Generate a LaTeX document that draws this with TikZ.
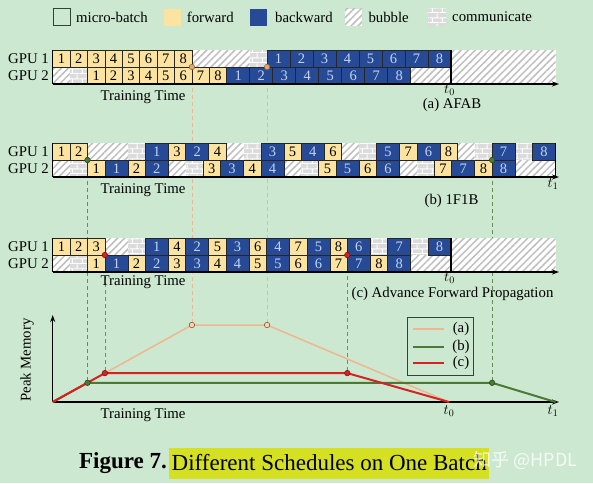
\documentclass[tikz,border=0pt]{standalone}
\usepackage{fontspec}
\setmainfont{Liberation Serif}
\newfontfamily\cjkfont{Noto Sans CJK SC}
\usetikzlibrary{arrows.meta, patterns, patterns.meta}

\definecolor{bgcol}{RGB}{204,232,208}
\definecolor{fwdcol}{RGB}{252,228,160}
\definecolor{bwdcol}{RGB}{38,74,150}
\definecolor{bwdtext}{RGB}{196,212,240}
\definecolor{memA}{RGB}{240,182,142}
\definecolor{memB}{RGB}{74,122,52}
\definecolor{memC}{RGB}{214,34,34}
\definecolor{hilite}{RGB}{214,224,34}
\definecolor{boxedge}{RGB}{44,70,48}

% brick texture for the communicate slots
\pgfdeclarepatternformonly{brickwall}{\pgfpointorigin}{\pgfqpoint{10pt}{10pt}}{\pgfqpoint{10pt}{10pt}}{%
  \pgfsetlinewidth{1pt}%
  \pgfpathmoveto{\pgfqpoint{0pt}{0.5pt}}\pgfpathlineto{\pgfqpoint{10pt}{0.5pt}}%
  \pgfpathmoveto{\pgfqpoint{0pt}{5.5pt}}\pgfpathlineto{\pgfqpoint{10pt}{5.5pt}}%
  \pgfpathmoveto{\pgfqpoint{2.5pt}{0.5pt}}\pgfpathlineto{\pgfqpoint{2.5pt}{5.5pt}}%
  \pgfpathmoveto{\pgfqpoint{7.5pt}{5.5pt}}\pgfpathlineto{\pgfqpoint{7.5pt}{10pt}}%
  \pgfusepath{stroke}}

\begin{document}
\begin{tikzpicture}[
    x=1pt, y=-1pt,
    txt/.style={font=\fontsize{14.8}{17}\selectfont, inner sep=1pt},
    tlab/.style={txt, inner sep=0pt, anchor=north},
    cell/.style={draw=black!85, line width=0.6pt, minimum height=17pt, inner sep=0pt, outer sep=0pt, anchor=west, font=\fontsize{14.5}{16}\selectfont},
    fw/.style={cell, fill=fwdcol, minimum width=17.4pt},
    bw/.style={cell, fill=bwdcol, text=bwdtext, minimum width=23pt},
    bub/.style={fill=white, postaction={pattern={Lines[angle=45, distance=5pt, line width=1.5pt]}, pattern color=gray!50}},
    comm/.style={fill=gray!28, postaction={pattern=brickwall, pattern color=white}},
    rowedge/.style={line width=1.3pt, black},
    timeaxis/.style={line width=1.3pt, black, -{Stealth[length=7pt, width=5pt]}},
    dropline/.style={dashed, dash pattern=on 4pt off 3pt, line width=0.8pt},
    memdot/.style={circle, draw, line width=0.6pt, inner sep=0pt, minimum size=5.5pt},
    memline/.style={line width=2pt},
]

% ── Canvas ──
\fill[bgcol] (0,0) rectangle (593,483);
\useasboundingbox (0,0) rectangle (593,483);

% ── Key (top) ──
\node[draw=boxedge, line width=1.1pt, minimum size=17pt, inner sep=0pt, anchor=west] (keymb) at (53,17) {};
\node[txt, anchor=west] (keymbtxt) at (75,17) {micro-batch};
\node[fill=fwdcol, minimum size=17pt, inner sep=0pt, anchor=west] (keyfw) at (163.5,17) {};
\node[txt, anchor=west] (keyfwtxt) at (185.7,17) {forward};
\node[fill=bwdcol, minimum size=17pt, inner sep=0pt, anchor=west] (keybw) at (249.5,17) {};
\node[txt, anchor=west] (keybwtxt) at (274,17) {backward};
\path[bub] (345,8.5) rectangle (362,25.5);
\node[txt, anchor=west] (keybubtxt) at (367.3,17) {bubble};
\path[comm] (428,8.5) rectangle (446,25.5);
\node[txt, anchor=west] (keycmtxt) at (451,17) {communicate};

% ── Drop points ──
\coordinate (pa1) at (191.9,67);  \coordinate (pa2) at (267.1,67);
\coordinate (pb1) at (87.5,160);  \coordinate (pb2) at (492.1,160);
\coordinate (pc1) at (104.9,255); \coordinate (pc2) at (347.3,255);
\coordinate (o) at (52.7,402);
\coordinate (ma1) at (191.9,325); \coordinate (ma2) at (267.1,325);
\coordinate (mb1) at (87.5,382.8); \coordinate (mb2) at (492.1,382.8);
\coordinate (mc1) at (104.9,373.1); \coordinate (mc2) at (347.3,373.1);
\coordinate (t0end) at (449,402); \coordinate (t1end) at (555.5,402);

\draw[dropline, memA] (pa1) -- (ma1);
\draw[dropline, memA] (pa2) -- (ma2);
\draw[dropline, memB!85] (pb1) -- (mb1);
\draw[dropline, memB!85] (pb2) -- (mb2);
\draw[dropline, memC!75] (pc1) -- (mc1);
\draw[dropline, memC!75] (pc2) -- (mc2);

% ── (a) AFAB ──
\node[txt, anchor=east] (gpua1) at (50,58.5) {GPU 1};
\node[txt, anchor=east] (gpua2) at (50,75.5) {GPU 2};
\path[bub] (191.9,50) rectangle (249.7,67);
\path[comm] (249.7,50) rectangle (267.1,67);
\path[bub] (52.7,67) rectangle (70.1,84);
\path[comm] (70.1,67) rectangle (87.5,84);
\path[bub] (410.7,67) rectangle (451.1,84);
\path[bub] (451.1,50) rectangle (555.5,84);
\foreach \n in {1,...,8} {
  \node[fw] (a1fw\n) at ({52.7+17.4*(\n-1)},58.5) {\n};
  \node[bw] (a1bw\n) at ({267.1+23*(\n-1)},58.5) {\n};
  \node[fw] (a2fw\n) at ({87.5+17.4*(\n-1)},75.5) {\n};
  \node[bw] (a2bw\n) at ({226.7+23*(\n-1)},75.5) {\n};
}
\draw[rowedge] (52.7,50) -- (52.7,84);
\draw[rowedge] (451.1,50) -- (451.1,84);
\draw[timeaxis] (52.7,84) -- (559,84);
\node[txt] (ttimea) at (143,97) {Training Time};
\node[tlab] (t0a) at (449.5,84.5) {$t_0$};
\node[txt] (capa) at (452,104.5) {(a) AFAB};

% ── (b) 1F1B ──
\node[txt, anchor=east] (gpub1) at (50,151.5) {GPU 1};
\node[txt, anchor=east] (gpub2) at (50,168.5) {GPU 2};
\foreach \a/\b in {87.5/127.9, 226.1/243.5, 341.7/359.1, 457.3/474.7}
  \path[bub] (\a,143) rectangle (\b,160);
\foreach \a/\b in {127.9/145.3, 243.5/260.9, 359.1/376.5, 474.7/492.1, 515.1/532.5}
  \path[comm] (\a,143) rectangle (\b,160);
\foreach \a/\b in {52.7/70.1, 168.3/185.7, 283.9/301.3, 399.5/416.9, 515.1/555.5}
  \path[bub] (\a,160) rectangle (\b,177);
\foreach \a/\b in {70.1/87.5, 185.7/203.1, 301.3/318.7, 416.9/434.3}
  \path[comm] (\a,160) rectangle (\b,177);
\foreach \s/\x/\n in {fw/52.7/1, fw/70.1/2, bw/145.3/1, fw/168.3/3, bw/185.7/2, fw/208.7/4,
    bw/260.9/3, fw/283.9/5, bw/301.3/4, fw/324.3/6, bw/376.5/5, fw/399.5/7, bw/416.9/6,
    fw/439.9/8, bw/492.1/7, bw/532.5/8}
  \node[\s] (b1\s\n) at (\x,151.5) {\n};
\foreach \s/\x/\n in {fw/87.5/1, bw/104.9/1, fw/127.9/2, bw/145.3/2, fw/203.1/3, bw/220.5/3,
    fw/243.5/4, bw/260.9/4, fw/318.7/5, bw/336.1/5, fw/359.1/6, bw/376.5/6, fw/434.3/7,
    bw/451.7/7, fw/474.7/8, bw/492.1/8}
  \node[\s] (b2\s\n) at (\x,168.5) {\n};
\draw[rowedge] (52.7,143) -- (52.7,177);
\draw[rowedge] (555.5,143) -- (555.5,177);
\draw[timeaxis] (52.7,177) -- (559,177);
\node[txt] (ttimeb) at (143,190) {Training Time};
\node[tlab] (t1b) at (553,178) {$t_1$};
\node[txt] (capb) at (451.5,201) {(b) 1F1B};

% ── (c) Advance Forward Propagation ──
\node[txt, anchor=east] (gpuc1) at (50,246.5) {GPU 1};
\node[txt, anchor=east] (gpuc2) at (50,263.5) {GPU 2};
\path[bub] (104.9,238) rectangle (127.9,255);
\foreach \a/\b in {127.9/145.3, 370.3/387.7, 410.7/428.1}
  \path[comm] (\a,238) rectangle (\b,255);
\path[bub] (52.7,255) rectangle (70.1,272);
\path[comm] (70.1,255) rectangle (87.5,272);
\path[bub] (410.7,255) rectangle (451.1,272);
\path[bub] (451.1,238) rectangle (555.5,272);
\foreach \s/\x/\n in {fw/52.7/1, fw/70.1/2, fw/87.5/3, bw/145.3/1, fw/168.3/4, bw/185.7/2,
    fw/208.7/5, bw/226.1/3, fw/249.1/6, bw/266.5/4, fw/289.5/7, bw/306.9/5, fw/329.9/8,
    bw/347.3/6, bw/387.7/7, bw/428.1/8}
  \node[\s] (c1\s\n) at (\x,246.5) {\n};
\foreach \s/\x/\n in {fw/87.5/1, bw/104.9/1, fw/127.9/2, bw/145.3/2, fw/168.3/3, bw/185.7/3,
    fw/208.7/4, bw/226.1/4, fw/249.1/5, bw/266.5/5, fw/289.5/6, bw/306.9/6, fw/329.9/7,
    bw/347.3/7, fw/370.3/8, bw/387.7/8}
  \node[\s] (c2\s\n) at (\x,263.5) {\n};
\draw[rowedge] (52.7,238) -- (52.7,272);
\draw[rowedge] (451.1,238) -- (451.1,272);
\draw[timeaxis] (52.7,272) -- (559,272);
\node[txt] (ttimec) at (143,282) {Training Time};
\node[tlab] (t0c) at (449.5,272.5) {$t_0$};
\node[txt] (capc) at (452.5,293.5) {(c) Advance Forward Propagation};

% ── Schedule dots ──
\node[memdot, fill=memA!70!brown, draw=brown!80!black] (da1) at (pa1) {};
\node[memdot, fill=memA!70!brown, draw=brown!80!black] (da2) at (pa2) {};
\node[memdot, fill=memB, draw=memB!60!black] (db1) at (pb1) {};
\node[memdot, fill=memB, draw=memB!60!black] (db2) at (pb2) {};
\node[memdot, fill=memC, draw=memC!60!black] (dc1) at (pc1) {};
\node[memdot, fill=memC, draw=memC!60!black] (dc2) at (pc2) {};

% ── Peak memory plot ──
\draw[timeaxis] (o) -- (52.7,315);
\draw[timeaxis] (o) -- (559,402);
\draw[memline, memA, line width=1.5pt] (o) -- (ma1) -- (ma2) -- (t0end);
\draw[memline, memB] (o) -- (mb1) -- (mb2) -- (t1end);
\draw[memline, memC] (o) -- (mc1) -- (mc2) -- (t0end);
\node[memdot, fill=memA!60!white, draw=brown!70!black] (gma1) at (ma1) {};
\node[memdot, fill=memA!60!white, draw=brown!70!black] (gma2) at (ma2) {};
\node[memdot, fill=memB, draw=memB!60!black] (gmb1) at (mb1) {};
\node[memdot, fill=memB, draw=memB!60!black] (gmb2) at (mb2) {};
\node[memdot, fill=memC, draw=memC!60!black] (gmc1) at (mc1) {};
\node[memdot, fill=memC, draw=memC!60!black] (gmc2) at (mc2) {};
\node[txt, rotate=90] (peak) at (27,360) {Peak Memory};
\node[txt] (ttimem) at (143,415) {Training Time};
\node[tlab] (t0m) at (449,405) {$t_0$};
\node[tlab] (t1m) at (553,405) {$t_1$};

% ── Plot key ──
\node[draw=boxedge, line width=1pt, minimum width=66pt, minimum height=58pt, inner sep=0pt, anchor=north west] (memkey) at (407,317) {};
\draw[memline, memA] (413,329) -- (444,329);
\draw[memline, memB] (413,347) -- (444,347);
\draw[memline, memC] (413,363) -- (444,363);
\node[txt] (keya) at (461,329) {(a)};
\node[txt] (keyb) at (461,347) {(b)};
\node[txt] (keyc) at (461,363) {(c)};

% ── Caption ──
\node[font=\fontsize{23}{26}\selectfont\bfseries, anchor=east, inner sep=1pt] (figlbl) at (168,463) {Figure 7.};
\node[font=\fontsize{23}{26}\selectfont, fill=hilite, anchor=west, inner xsep=2.5pt, minimum height=31pt] (figtitle) at (169,463) {Different Schedules on One Batch};
\node[font=\cjkfont\fontsize{18}{20}\selectfont, text=white, opacity=0.8, anchor=west] (mark) at (470,460) {知乎 @HPDL};

\end{tikzpicture}
\end{document}
